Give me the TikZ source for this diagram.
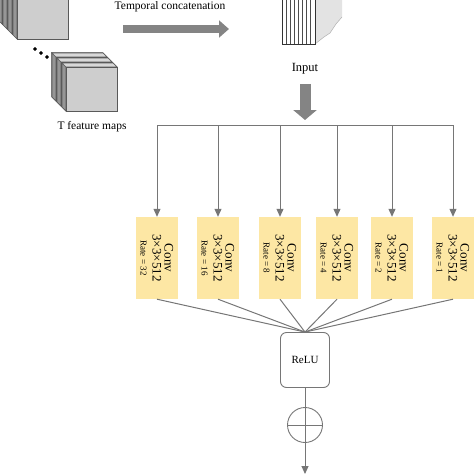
\documentclass[tikz,border=0pt]{standalone}
\usepackage{fontspec}
\setmainfont{Liberation Serif}
\usetikzlibrary{calc}
\usetikzlibrary{arrows.meta}

\definecolor{linegray}{RGB}{118,118,118}
\definecolor{convyellow}{RGB}{253,231,164}
\definecolor{mapfront}{RGB}{206,206,206}
\definecolor{mapside}{RGB}{150,150,150}

% one feature map slab, front face top-left corner at (#1,#2)
\newcommand{\mapslab}[2]{%
  \filldraw[fill=mapside, draw=black!65, line width=0.6pt] (#1,#2) -- ($(#1,#2)+(-4,-4)$) -- ($(#1,#2)+(-4,40)$) -- ($(#1,#2)+(0,44)$) -- cycle;
  \filldraw[fill=mapfront!80!white, draw=black!65, line width=0.6pt] (#1,#2) -- ($(#1,#2)+(-4,-4)$) -- ($(#1,#2)+(47,-4)$) -- ($(#1,#2)+(51,0)$) -- cycle;
  \filldraw[fill=mapfront, draw=black!65, line width=0.6pt] (#1,#2) rectangle ($(#1,#2)+(51,44)$);
}

\begin{document}
\begin{tikzpicture}[x=1pt,y=-1pt,
    conv/.style={fill=convyellow, rotate=-90, minimum width=82pt, minimum height=42pt,
      align=center, inner sep=1pt, font=\fontsize{13}{12}\selectfont},
    relubox/.style={draw=linegray, line width=0.9pt, rounded corners=6pt, fill=white,
      minimum width=49pt, minimum height=55pt, font=\fontsize{11}{12}\selectfont},
    conn/.style={draw=linegray, line width=1pt},
    tip/.style={conn, -{Triangle[width=7pt,length=8pt]}},
    fatarrow/.style={draw=linegray!90, line width=#1, -{Triangle[width=2.1*#1,length=10pt]}},
    label/.style={font=\fontsize{11.5}{13}\selectfont}]
  \useasboundingbox (0,0) rectangle (474,474);
  \clip (0,0) rectangle (474,474);

  % feature maps
  \foreach \x/\y in {2/-20, 7/-15, 12/-10, 17/-5}
    \mapslab{\x}{\y}
  \foreach \x/\y in {56/57, 61/62, 66/67}
    \mapslab{\x}{\y}
  \foreach \x/\y in {35/49, 41/53, 47/57}
    \fill (\x,\y) circle[radius=1.3pt];
  \node[label] (tmaps) at (92,127) {T feature maps};

  % concatenated block
  \fill[gray!22] (315,44) -- (324,37) -- (330,33) -- (336,24) -- (342,17) -- (342,-2) -- (315,-2) -- cycle;
  \draw[gray!60, line width=0.5pt] (315,44) -- (324,37) -- (330,33) -- (336,24) -- (342,17);
  \foreach \x in {286.5,290.5,...,312}
    \draw[black!70, line width=0.5pt] (\x,-2) -- (\x,44);
  \draw[black!80, line width=0.7pt] (282,-2) -- (282,44) -- (315,44) -- (315,-2);

  \node[label] (tcat) at (170,7) {Temporal concatenation};
  \coordinate (tcatA) at (123,29);
  \coordinate (tcatB) at (229,29);
  \draw[fatarrow=8pt] (tcatA) -- (tcatB);

  \node[font=\fontsize{12.5}{14}\selectfont] (input) at (305,69) {Input};
  \coordinate (split) at (305,125);
  \draw[fatarrow=11pt] ($(input.south)+(0,6)$) -- ($(split)+(0,-5)$);

  % branches
  \coordinate (splitL) at (157,125);
  \coordinate (splitR) at (453,125);
  \draw[conn] (splitL) -- (splitR);

  \node[conv] (c1) at (157,258) {Conv\\3×3×512\\{\fontsize{9}{10}\selectfont Rate = 32}};
  \node[conv] (c2) at (218,258) {Conv\\3×3×512\\{\fontsize{9}{10}\selectfont Rate = 16}};
  \node[conv] (c3) at (280,258) {Conv\\3×3×512\\{\fontsize{9}{10}\selectfont Rate = 8}};
  \node[conv] (c4) at (337,258) {Conv\\3×3×512\\{\fontsize{9}{10}\selectfont Rate = 4}};
  \node[conv] (c5) at (392,258) {Conv\\3×3×512\\{\fontsize{9}{10}\selectfont Rate = 2}};
  \node[conv] (c6) at (453,258) {Conv\\3×3×512\\{\fontsize{9}{10}\selectfont Rate = 1}};

  \node[relubox] (relu) at (305,360) {ReLU};
  \node[circle, draw=linegray, line width=0.9pt, minimum size=35pt] (plus) at (305,425) {};
  \coordinate (out) at (305,474);

  % rotated boxes: west is the top side, east the bottom side
  \foreach \i in {1,...,6} {
    \draw[tip] (c\i |- splitL) -- (c\i.west);
    \draw[conn] (c\i.east) -- (relu.north);
  }

  \draw[conn] (relu.south) -- (plus.north);
  \draw[conn] (plus.north) -- (plus.south);
  \draw[conn] (plus.west) -- (plus.east);
  \draw[tip] (plus.south) -- (out);

\end{tikzpicture}
\end{document}
